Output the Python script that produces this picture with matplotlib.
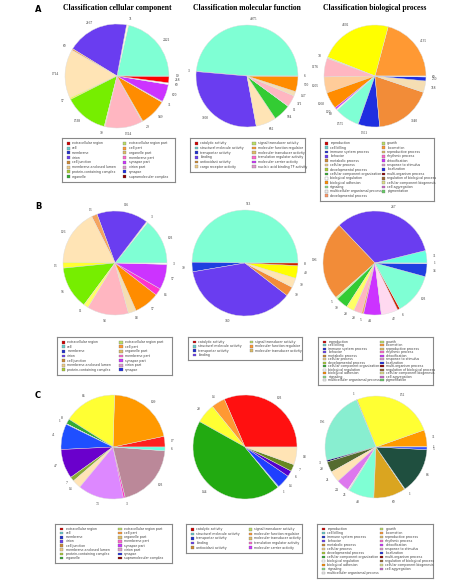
"""GO classification pies (cellular component / molecular function / biological process), three panels."""
import matplotlib
matplotlib.use("Agg")
import matplotlib.pyplot as plt
from matplotlib.patches import Rectangle

W, H = 474, 588

# ---- data -----------------------------------------------------------------
# panel A
a_cc_vals = [2421, 71, 2167, 60, 1714, 57, 1538, 30, 1324, 29, 939, 31, 620, 60, 218, 19]
a_cc_cols = ["#7fffd4", "#ffffe0", "#6a3df0", "#f4a460", "#ffe4b5", "#ffff33", "#76ee00", "#ffff66",
             "#ffb6c1", "#f5deb3", "#ff8c00", "#ffe4c4", "#cc33ff", "#ffffff", "#ff0000", "#8b0000"]
a_mf_vals = [4975, 3, 3000, 662, 564, 11, 371, 147, 500, 6]
a_mf_cols = ["#7fffd4", "#87cefa", "#6a3df0", "#ffe4b5", "#33cc33", "#ffffe0", "#ffb6c1", "#f5deb3",
             "#ff8c00", "#ff0000"]
a_bp_vals = [4135, 4592, 78, 1176, 1005, 1060, 120, 80, 1575, 1351, 3640, 718, 250, 60]
a_bp_cols = ["#ff9933", "#ffff00", "#ccff99", "#ffb6c1", "#ffcc99", "#ff8c00", "#cc33ff", "#ffffff",
             "#7fffd4", "#1f2fe0", "#f28c38", "#f5deb3", "#1f2fe0", "#ffffff"]
# panel B
b_cc_vals = [103, 3, 116, 13, 126, 13, 96, 11, 93, 18, 57, 16, 57, 3]
b_cc_cols = ["#7fffd4", "#ffffe0", "#6a3df0", "#f4a460", "#ffe4b5", "#ffff33", "#76ee00", "#ffff66",
             "#ffb6c1", "#f5deb3", "#ff8c00", "#ff33cc", "#cc33ff", "#ffffff"]
b_mf_vals = [513, 30, 380, 30, 30, 40, 8]
b_mf_cols = ["#7fffd4", "#1f3fe0", "#6a3df0", "#f28c38", "#ffe4b5", "#ffff00", "#cc2200"]
b_bp_vals = [31, 267, 196, 5, 30, 20, 20, 5, 44, 42, 6, 103, 33, 1]
b_bp_cols = ["#66ffe0", "#6a3df0", "#f28c38", "#ccff99", "#33cc33", "#ffff66", "#ffb6c1", "#f4a460",
             "#cc33ff", "#ffd9f0", "#cc2200", "#7fffd4", "#1f3fe0", "#ffffff"]
# panel C
c_cc_vals = [17, 109, 85, 8, 1, 41, 47, 7, 14, 73, 3, 103, 6]
c_cc_cols = ["#ff2020", "#ff9900", "#ffff33", "#33aa33", "#ffffff", "#1f4fff", "#6a00cc", "#88aa33",
             "#ffe4b5", "#dd88ff", "#ff33cc", "#bb8899", "#66ffe0"]
c_mf_vals = [103, 14, 20, 144, 1, 14, 6, 7, 18]
c_mf_cols = ["#ff1010", "#ff9933", "#ffff33", "#22aa11", "#7fffd4", "#1f3fff", "#5500cc", "#668822",
             "#ffe4b5"]
c_bp_vals = [1, 31, 152, 1, 136, 3, 20, 21, 24, 2, 1, 48, 60, 1, 86, 5]
c_bp_cols = ["#ffffff", "#ff9900", "#ffff33", "#226622", "#88eed0", "#000066", "#556b2f", "#ffe4b5",
             "#dd77ee", "#ffffff", "#ff99cc", "#7fffd4", "#daa520", "#ffffff", "#1f4f3f", "#2f4fff"]

cc_terms = ["extracellular region", "extracellular region part", "cell", "cell part", "membrane",
            "organelle part", "virion", "membrane part", "cell junction", "synapse part",
            "membrane-enclosed lumen", "virion part", "protein-containing complex", "synapse",
            "organelle", "supramolecular complex"]
mf_terms = ["catalytic activity", "signal transducer activity", "structural molecule activity",
            "molecular function regulator", "transporter activity", "molecular transducer activity",
            "binding", "translation regulator activity", "antioxidant activity",
            "molecular carrier activity", "cargo receptor activity", "nucleic acid binding TF activity"]
bp_terms = ["reproduction", "growth", "cell killing", "locomotion", "immune system process",
            "reproductive process", "behavior", "rhythmic process", "metabolic process",
            "detoxification", "cellular process", "response to stimulus", "developmental process",
            "localization", "cellular component organization", "multi-organism process",
            "biological regulation", "regulation of biological process", "biological adhesion",
            "cellular component biogenesis", "signaling", "cell aggregation",
            "multicellular organismal process", "pigmentation", "developmental process"]
leg_cols = ["#cc0000", "#bbdd66", "#66cccc", "#ff9933", "#1f2fcc", "#ddbb66", "#6a3df0", "#ff66cc",
            "#cc8833", "#cc33ff", "#eecc88", "#dd99cc", "#aacc33", "#1f2fe0", "#33aa33", "#8b0000",
            "#ffffff", "#996633", "#ff8c00", "#dddd88", "#88dd88", "#cc66cc", "#eeeeee", "#66cc66",
            "#ff9966"]

fig = plt.figure(figsize=(W / 100, H / 100), dpi=100)
SERIF = "Liberation Serif"


def px_axes(x0, y0, w, h):
    return fig.add_axes([x0 / W, 1 - (y0 + h) / H, w / W, h / H])


def draw_pie(cx, cy, r, vals, cols):
    ax = px_axes(cx - r, cy - r, 2 * r, 2 * r)
    wedges, texts = ax.pie(vals, colors=cols, labels=[str(v) for v in vals], startangle=0,
                           counterclock=True, labeldistance=1.12,
                           wedgeprops=dict(edgecolor="#dddddd", linewidth=0.3),
                           textprops=dict(fontsize=2.6, color="#333333", family=SERIF))
    for t in texts:
        t.set_clip_on(False)
    ax.set_xlim(-1, 1)
    ax.set_ylim(-1, 1)
    ax.set_aspect("equal")


def draw_legend(x0, y0, w, h, terms):
    ax = px_axes(x0, y0, w, h)
    ax.set_xlim(0, 1)
    ax.set_ylim(0, 1)
    ax.set_xticks([])
    ax.set_yticks([])
    for s in ax.spines.values():
        s.set_color("#888888")
        s.set_linewidth(0.8)
    rows = (len(terms) + 1) // 2
    step = (h - 6) / rows / h
    for i, term in enumerate(terms):
        col, row = i % 2, i // 2
        x = 0.04 + col * 0.5
        y = 1 - 3 / h - step * (row + 0.5)
        ax.add_patch(Rectangle((x, y - step * 0.3), 0.03, step * 0.6,
                               facecolor=leg_cols[i % len(leg_cols)], edgecolor="#666666", lw=0.2))
        ax.text(x + 0.05, y, term, fontsize=2.3, va="center", ha="left", color="#444444")


titles = ["Classification cellular component", "Classification molecular function",
          "Classification biological process"]
for x, t in zip([117, 247, 375], titles):
    fig.text(x / W, 1 - 8 / H, t, ha="center", va="center", fontsize=5.5, fontweight="bold",
             family=SERIF)
for y, letter in [(10, "A"), (206, "B"), (395, "C")]:
    fig.text(38 / W, 1 - y / H, letter, ha="center", va="center", fontsize=6, fontweight="bold")

draw_pie(117, 76, 52, a_cc_vals, a_cc_cols)
draw_pie(247, 76, 51, a_mf_vals, a_mf_cols)
draw_pie(375, 76, 51, a_bp_vals, a_bp_cols)
draw_pie(115, 263, 52, b_cc_vals, b_cc_cols)
draw_pie(245, 263, 53, b_mf_vals, b_mf_cols)
draw_pie(375, 263, 52, b_bp_vals, b_bp_cols)
draw_pie(113, 447, 52, c_cc_vals, c_cc_cols)
draw_pie(245, 447, 52, c_mf_vals, c_mf_cols)
draw_pie(376, 447, 51, c_bp_vals, c_bp_cols)

draw_legend(62, 138, 113, 44, cc_terms)
draw_legend(190, 138, 115, 34, mf_terms)
draw_legend(320, 138, 114, 63, bp_terms)
draw_legend(57, 337, 115, 38, cc_terms[:14])
draw_legend(188, 337, 114, 23, mf_terms[:7])
draw_legend(318, 337, 115, 48, bp_terms[:24])
draw_legend(55, 524, 117, 39, cc_terms)
draw_legend(186, 524, 116, 29, mf_terms[:10])
draw_legend(317, 524, 116, 54, bp_terms[:23])

fig.savefig("out.png", dpi=100)
